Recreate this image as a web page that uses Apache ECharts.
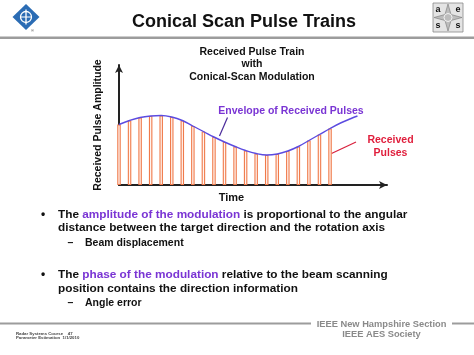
<!DOCTYPE html>
<html>
<head>
<meta charset="utf-8">
<script src="https://cdn.jsdelivr.net/npm/echarts@6/dist/echarts.min.js"></script>
<style>
html,body{margin:0;padding:0;background:#fff;}
#chart{width:474px;height:355px;}
</style>
</head>
<body>
<div id="chart"></div>
<script>
// ---- data ----
var slideTitle = 'Conical Scan Pulse Trains';
var chartTitle = 'Received Pulse Train\nwith\nConical-Scan Modulation';
var xAxisName = 'Time';
var yAxisName = 'Received Pulse Amplitude';
var pulseTime = [0, 1, 2, 3, 4, 5, 6, 7, 8, 9, 10, 11, 12, 13, 14, 15, 16, 17, 18, 19, 20];
var pulseAmp  = [60.5, 64.5, 67.5, 69, 69.5, 68, 64.5, 59, 53.5, 48, 43, 38.5, 34.5, 31.5, 30, 31, 34, 38.5, 44.5, 50.5, 56.5];
var envTime = [0, 1, 2, 3, 4, 5, 6, 7, 8, 9, 10, 11, 12, 13, 14, 15, 16, 17, 18, 19, 20, 21, 22, 22.6];
var envAmp  = [60.5, 64.5, 67.5, 69, 69.5, 68, 64.5, 59, 53.5, 48, 43, 38.5, 34.5, 31.5, 30, 31, 34, 38.5, 44.5, 50.5, 56.5, 62, 66.5, 69];
var envLabel = 'Envelope of Received Pulses';
var pulseLabel = ['Received', 'Pulses'];
var bullet1 = ['The ', 'amplitude of the modulation', ' is proportional to the angular', 'distance between the target direction and the rotation axis'];
var sub1 = 'Beam displacement';
var bullet2 = ['The ', 'phase of the modulation', ' relative to the beam scanning', 'position contains the direction information'];
var sub2 = 'Angle error';
var footerRight = ['IEEE New Hampshire Section', 'IEEE AES Society'];
var footerLeft = ['Radar Systems Course    47', 'Parameter Estimation  1/1/2010'];

var FONT = '"Liberation Sans", Arial, Helvetica, sans-serif';
var PURPLE = '#7a35d4';

var chart = echarts.init(document.getElementById('chart'), null, {renderer: 'canvas'});

function bf(size){ return 'bold ' + size + 'px ' + FONT; }

var graphics = [
  // header rule
  {type:'rect', shape:{x:0, y:36.5, width:474, height:2.5}, style:{fill:'#9c9c9c'}, silent:true},
  // footer rules
  {type:'rect', shape:{x:0, y:322.5, width:311, height:2}, style:{fill:'#9c9c9c'}, silent:true},
  {type:'rect', shape:{x:452, y:322.5, width:22, height:2}, style:{fill:'#9c9c9c'}, silent:true},
  // IEEE logo (left)
  {type:'polygon', shape:{points:[[26,4],[39.5,17],[26,30],[12.5,17]]}, style:{fill:'#2b6cb4'}},
  {type:'circle', shape:{cx:26, cy:17, r:5.5}, style:{fill:'none', stroke:'#fff', lineWidth:1.3}},
  {type:'line', shape:{x1:26, y1:9.5, x2:26, y2:24.5}, style:{stroke:'#fff', lineWidth:1.3}},
  {type:'line', shape:{x1:20, y1:17, x2:32, y2:17}, style:{stroke:'#fff', lineWidth:1}},
  {type:'text', style:{text:'®', x:31, y:29, font:'4px ' + FONT, fill:'#333'}},
  // AES logo (right)
  {type:'rect', shape:{x:433, y:3, width:30, height:29}, style:{fill:'#e4e4e4', stroke:'#888', lineWidth:0.8}},
  {type:'polygon', shape:{points:[[448,4],[451,14.5],[462,17.5],[451,20.5],[448,31],[445,20.5],[434,17.5],[445,14.5]]}, style:{fill:'#bdbdbd', stroke:'#777', lineWidth:0.6}},
  {type:'circle', shape:{cx:448, cy:17.5, r:4}, style:{fill:'none', stroke:'#fff', lineWidth:0.8}},
  {type:'text', style:{text:'a', x:438, y:9.5, font:bf(9), fill:'#111', align:'center', verticalAlign:'middle'}},
  {type:'text', style:{text:'e', x:458, y:9.5, font:bf(9), fill:'#111', align:'center', verticalAlign:'middle'}},
  {type:'text', style:{text:'s', x:438, y:26, font:bf(9), fill:'#111', align:'center', verticalAlign:'middle'}},
  {type:'text', style:{text:'s', x:458, y:26, font:bf(9), fill:'#111', align:'center', verticalAlign:'middle'}},
  // envelope label + leader
  {type:'text', style:{text:envLabel, x:291, y:111, font:bf(10.5), fill:PURPLE, align:'center', verticalAlign:'middle'}},
  {type:'line', shape:{x1:227.5, y1:117.5, x2:219.5, y2:136}, style:{stroke:'#4a2a9a', lineWidth:1.2}},
  // received pulses label + leader
  {type:'text', style:{text:pulseLabel[0], x:390.5, y:140.5, font:bf(10.5), fill:'#e01e3c', align:'center', verticalAlign:'middle'}},
  {type:'text', style:{text:pulseLabel[1], x:390.5, y:153.5, font:bf(10.5), fill:'#e01e3c', align:'center', verticalAlign:'middle'}},
  {type:'line', shape:{x1:331.5, y1:153.5, x2:356, y2:142}, style:{stroke:'#d8203c', lineWidth:1.2}},
  // bullets
  {type:'text', style:{text:'•', x:43, y:215, font:bf(12), fill:'#111', align:'center', verticalAlign:'middle'}},
  {type:'text', style:{text:'{b|' + bullet1[0] + '}{p|' + bullet1[1] + '}{b|' + bullet1[2] + '}', x:58, y:215, verticalAlign:'middle',
     rich:{b:{font:bf(11.8), fill:'#111'}, p:{font:bf(11.8), fill:PURPLE}}}},
  {type:'text', style:{text:bullet1[3], x:58, y:228, font:bf(11.8), fill:'#111', verticalAlign:'middle'}},
  {type:'text', style:{text:'–', x:70.5, y:243.5, font:bf(10.5), fill:'#111', align:'center', verticalAlign:'middle'}},
  {type:'text', style:{text:sub1, x:85, y:243.5, font:bf(10.5), fill:'#111', verticalAlign:'middle'}},
  {type:'text', style:{text:'•', x:43, y:275, font:bf(12), fill:'#111', align:'center', verticalAlign:'middle'}},
  {type:'text', style:{text:'{b|' + bullet2[0] + '}{p|' + bullet2[1] + '}{b|' + bullet2[2] + '}', x:58, y:275, verticalAlign:'middle',
     rich:{b:{font:bf(11.8), fill:'#111'}, p:{font:bf(11.8), fill:PURPLE}}}},
  {type:'text', style:{text:bullet2[3], x:58, y:288.3, font:bf(11.8), fill:'#111', verticalAlign:'middle'}},
  {type:'text', style:{text:'–', x:70.5, y:303.5, font:bf(10.5), fill:'#111', align:'center', verticalAlign:'middle'}},
  {type:'text', style:{text:sub2, x:85, y:303.5, font:bf(10.5), fill:'#111', verticalAlign:'middle'}},
  // footer
  {type:'text', style:{text:footerRight[0], x:381.5, y:324, font:bf(9.3), fill:'#8a8a8a', align:'center', verticalAlign:'middle'}},
  {type:'text', style:{text:footerRight[1], x:381.5, y:334.5, font:bf(9.3), fill:'#8a8a8a', align:'center', verticalAlign:'middle'}},
  {type:'text', style:{text:footerLeft[0], x:16, y:333.5, font:bf(4.3), fill:'#444', verticalAlign:'middle'}},
  {type:'text', style:{text:footerLeft[1], x:16, y:337.5, font:bf(4.3), fill:'#444', verticalAlign:'middle'}}
];

var option = {
  backgroundColor: '#ffffff',
  animation: false,
  title: [
    {text: slideTitle, left: 239, top: 8, textAlign: 'center',
     textStyle: {fontFamily: FONT, fontWeight: 'bold', fontSize: 18, color: '#111'}},
    {text: chartTitle, left: 247, top: 41, textAlign: 'center',
     textStyle: {fontFamily: FONT, fontWeight: 'bold', fontSize: 10.5, lineHeight: 12.4, color: '#111'}}
  ],
  grid: {left: 119, right: 87, top: 65, bottom: 170, containLabel: false},
  xAxis: {
    type: 'value', min: 0, max: 25.4,
    name: xAxisName, nameLocation: 'middle', nameGap: 7,
    nameTextStyle: {fontFamily: FONT, fontWeight: 'bold', fontSize: 11, color: '#111', padding: [0, 43, 0, 0]},
    axisLine: {show: true, onZero: false, symbol: ['none', 'arrow'], symbolSize: [6, 8], lineStyle: {color: '#222', width: 2}},
    axisTick: {show: false}, axisLabel: {show: false}, splitLine: {show: false}
  },
  yAxis: {
    type: 'value', min: 0, max: 120,
    name: yAxisName, nameLocation: 'middle', nameGap: 15,
    nameTextStyle: {fontFamily: FONT, fontWeight: 'bold', fontSize: 10.5, color: '#111'},
    axisLine: {show: true, onZero: false, symbol: ['none', 'arrow'], symbolSize: [6, 8], lineStyle: {color: '#222', width: 2}},
    axisTick: {show: false}, axisLabel: {show: false}, splitLine: {show: false}
  },
  series: [
    {
      type: 'bar', name: 'Received Pulses',
      data: pulseTime.map(function (t, i) { return [t, pulseAmp[i]]; }),
      barWidth: 3.5,
      itemStyle: {color: '#fff3ee', borderColor: '#f07a4a', borderWidth: 1.1},
      z: 2
    },
    {
      type: 'line', name: 'Envelope',
      data: envTime.map(function (t, i) { return [t, envAmp[i]]; }),
      smooth: 0.4, showSymbol: false,
      lineStyle: {color: '#5b4be0', width: 1.4},
      z: 3
    }
  ],
  graphic: graphics
};
chart.setOption(option);
</script>
</body>
</html>
